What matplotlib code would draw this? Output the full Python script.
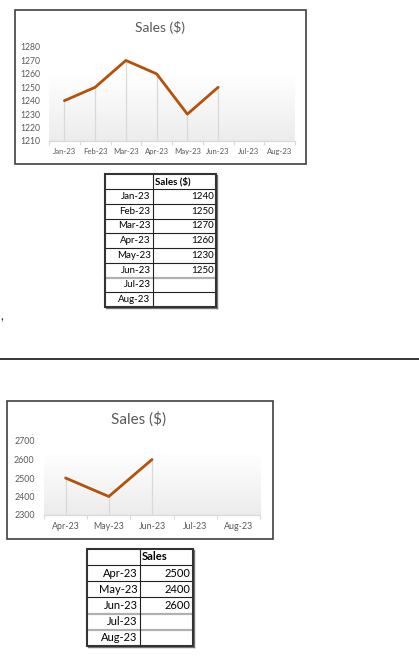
import numpy as np
import matplotlib
matplotlib.use("Agg")
import matplotlib.pyplot as plt
from matplotlib.colors import LinearSegmentedColormap
from matplotlib.patches import Rectangle

plt.rcParams['font.family'] = ['Lato', 'DejaVu Sans']

# data
months1 = ['Jan-23', 'Feb-23', 'Mar-23', 'Apr-23', 'May-23', 'Jun-23', 'Jul-23', 'Aug-23']
sales1 = [1240, 1250, 1270, 1260, 1230, 1250]
yticks1 = [1210, 1220, 1230, 1240, 1250, 1260, 1270, 1280]

months2 = ['Apr-23', 'May-23', 'Jun-23', 'Jul-23', 'Aug-23']
sales2 = [2500, 2400, 2600]
yticks2 = [2300, 2400, 2500, 2600, 2700]

title = 'Sales ($)'
header1 = 'Sales ($)'
header2 = 'Sales'

W, H = 419, 658
LINE = '#b4510a'
GREY_TXT = '#595959'
AXIS_GREY = '#d9d9d9'

fig = plt.figure(figsize=(W / 100, H / 100), dpi=100)

# background axes in pixel coordinates for frames, tables, separator
bg = fig.add_axes([0, 0, 1, 1])
bg.set_xlim(0, W)
bg.set_ylim(H, 0)
bg.axis('off')

grad_cmap = LinearSegmentedColormap.from_list('g', ['#ffffff', '#ececec'])


def add_px_axes(l, t, r, b):
    return fig.add_axes([l / W, 1 - b / H, (r - l) / W, (b - t) / H])


def line_chart(box, area, cats, vals, yticks, grad_top, title_xy, title_size,
               ytick_size, xtick_size, ypad):
    # outer chart frame
    x0, y0, x1, y1 = box
    bg.add_patch(Rectangle((x0, y0), x1 - x0, y1 - y0, fill=False,
                           edgecolor='#3f3f3f', lw=1.2, zorder=5))
    bg.text(title_xy[0], title_xy[1], title, ha='center', va='center',
            fontsize=title_size, color=GREY_TXT)

    ax = add_px_axes(*area)
    ax.patch.set_alpha(0)
    n = len(cats)
    xs = np.arange(len(vals))
    ax.set_xlim(-0.5, n - 0.5)
    ax.set_ylim(yticks[0], yticks[-1])

    # white at the top, light grey at the axis
    grad = np.linspace(0, 1, 256).reshape(-1, 1)
    ax.imshow(grad, cmap=grad_cmap, extent=[-0.5, n - 0.5, yticks[0], grad_top],
              aspect='auto', zorder=0, vmin=0, vmax=1)

    ax.vlines(xs, yticks[0], vals, color=AXIS_GREY, lw=0.9, zorder=1)
    ax.plot(xs, vals, color=LINE, lw=2.0, solid_capstyle='round',
            solid_joinstyle='round', zorder=3)

    for s in ['top', 'right', 'left']:
        ax.spines[s].set_visible(False)
    ax.spines['bottom'].set_color(AXIS_GREY)
    ax.spines['bottom'].set_linewidth(0.9)

    ax.set_yticks(yticks)
    ax.set_xticks(np.arange(n))
    ax.set_xticklabels(cats)
    ax.set_xticks(np.arange(n + 1) - 0.5, minor=True)
    ax.tick_params(axis='y', length=0, pad=ypad, labelsize=ytick_size, labelcolor=GREY_TXT)
    ax.tick_params(axis='x', which='major', length=0, pad=5.0,
                   labelsize=xtick_size, labelcolor=GREY_TXT)
    ax.tick_params(axis='x', which='minor', length=3, width=0.8, color=AXIS_GREY)
    return ax


def data_table(left, split, right, top, head_h, row_h, cats, vals, header, fs, grey_lines):
    n = len(cats)
    bottom = top + head_h + n * row_h
    # inner horizontal lines
    for i in range(n):
        y = top + head_h + i * row_h
        c = '#b0b0b0' if i in grey_lines else '#222222'
        w = 1.6 if i in grey_lines else 0.8
        bg.plot([left, right], [y, y], color=c, lw=w, zorder=4)
    bg.plot([split, split], [top, bottom], color='#222222', lw=0.8, zorder=4)
    bg.add_patch(Rectangle((left, top), right - left, bottom - top, fill=False,
                           edgecolor='#333333', lw=1.5, zorder=5))
    bg.plot([right + 1, right + 1], [top + 1, bottom + 1], color='#777777', lw=1.0, zorder=4)
    bg.plot([left + 1, right + 1], [bottom + 1, bottom + 1], color='#777777', lw=1.0, zorder=4)

    bg.text(split + 2, top + head_h / 2, header, ha='left', va='center',
            fontsize=fs, fontweight='bold', color='black')
    for i, c in enumerate(cats):
        yc = top + head_h + (i + 0.5) * row_h
        bg.text(split - 2.5, yc, c, ha='right', va='center', fontsize=fs, color='black')
        if i < len(vals):
            bg.text(right - 2.5, yc, str(vals[i]), ha='right', va='center',
                    fontsize=fs, color='black')


# top chart and table
line_chart((15, 10, 306, 164), (49, 47, 295, 141), months1, sales1, yticks1,
           1259, (160, 27), 10, 6.2, 5.6, 6.0)
data_table(105, 153, 216, 174, 15, 14.75, months1, sales1, header1, 7, [6])

# stray comma and separator
bg.text(0, 316, ',', ha='left', va='center', fontsize=9, color='#333333')
bg.plot([0, W], [359, 359], color='black', lw=1.1)

# bottom chart and table
line_chart((7, 401, 273, 539), (44, 441, 260, 515), months2, sales2, yticks2,
           2635, (139, 419), 11, 6.4, 6.4, 6.8)
data_table(87, 140, 193, 549, 16, 16.2, months2, sales2, header2, 8, [3, 4])

fig.savefig('out.png', dpi=100)
